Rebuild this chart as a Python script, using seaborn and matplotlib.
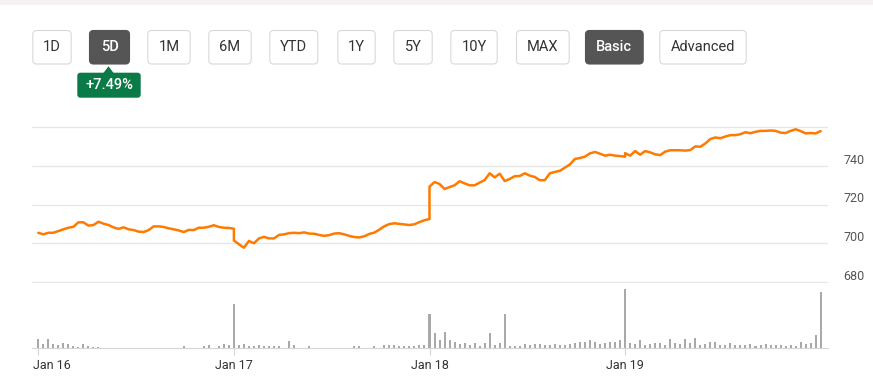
import numpy as np
import pandas as pd
import matplotlib
matplotlib.use("Agg")
import matplotlib.pyplot as plt
import seaborn as sns
from matplotlib.patches import FancyBboxPatch, Rectangle, Polygon
from matplotlib.transforms import ScaledTranslation

# ---------------- data ----------------
days = ["Jan 16", "Jan 17", "Jan 18", "Jan 19"]

price_jan16 = [705.4, 704.6, 705.4, 705.4, 706.3, 707.2, 708.0, 708.5, 710.8, 710.8,
               709.1, 709.4, 711.1, 710.1, 709.4, 708.2, 707.4, 708.2, 707.2, 706.8,
               706.0, 705.8, 706.8, 708.7, 708.7, 708.4, 707.7, 707.2, 706.6, 705.8,
               706.9, 706.8, 708.0, 708.0, 708.5, 709.3, 708.4, 708.0, 707.9, 707.5]
price_jan17 = [701.4, 699.5, 697.7, 701.2, 700.0, 702.5, 703.3, 702.5, 702.5, 704.3,
               704.6, 705.2, 705.4, 705.2, 705.6, 705.0, 704.9, 704.3, 703.8, 704.2,
               705.0, 705.2, 704.6, 703.8, 703.2, 703.0, 703.6, 704.8, 705.5, 707.0,
               708.8, 709.9, 710.3, 710.0, 709.7, 709.4, 709.8, 710.9, 711.9, 712.5]
price_jan18 = [729.2, 731.6, 730.6, 728.0, 729.0, 729.9, 732.0, 730.9, 729.9, 729.9,
               731.3, 732.6, 736.1, 734.0, 735.9, 732.1, 733.2, 734.6, 734.7, 736.1,
               734.9, 734.2, 732.5, 732.6, 736.1, 736.8, 737.4, 739.0, 740.7, 743.5,
               744.0, 744.7, 746.4, 747.1, 746.2, 745.2, 745.7, 745.2, 745.0, 744.7]
price_jan19 = [746.5, 745.2, 747.6, 745.7, 747.6, 746.9, 745.9, 745.5, 747.3, 748.0,
               748.0, 748.0, 747.8, 748.1, 750.0, 749.8, 751.5, 753.8, 754.6, 754.2,
               755.1, 755.8, 755.8, 756.3, 757.3, 756.8, 757.5, 758.0, 758.0, 758.2,
               758.0, 757.1, 756.9, 758.0, 758.8, 757.9, 756.7, 756.9, 756.7, 757.9]

vol_jan16 = [8.7, 3.3, 8.7, 3.3, 2.3, 5.0, 3.7, 2.0, 1.0, 3.7,
             1.3, 1.0, 1.0, 0, 0, 0, 0, 0, 0, 0,
             0, 0, 0, 0, 0, 0, 0, 0, 0, 1.3,
             0, 0, 0, 1.3, 2.3, 0, 1.3, 3.7, 2.3, 0]
vol_jan17 = [43.3, 2.3, 3.7, 1.3, 1.3, 2.3, 1.3, 1.3, 1.3, 1.3,
             0, 7.0, 2.3, 0, 0, 1.3, 0, 0, 0, 0,
             0, 0, 0, 0, 1.3, 1.3, 0, 0, 1.3, 0,
             2.3, 2.3, 2.3, 1.3, 1.3, 1.3, 1.3, 2.3, 2.3, 0]
vol_jan18 = [33.3, 15.0, 7.3, 16.0, 7.3, 6.0, 3.7, 5.0, 2.7, 5.0,
             1.3, 5.0, 15.0, 2.7, 5.0, 33.3, 1.3, 1.3, 1.3, 3.7,
             2.7, 3.7, 3.7, 2.3, 2.3, 3.7, 2.3, 2.3, 3.7, 5.0,
             6.0, 6.0, 7.3, 6.0, 3.7, 5.0, 6.0, 6.0, 7.3, 0]
vol_jan19 = [58.3, 5.0, 3.7, 7.3, 2.7, 3.7, 5.0, 5.0, 2.3, 8.7,
             5.0, 3.7, 8.7, 5.0, 10.0, 2.7, 3.7, 6.0, 6.0, 2.3,
             2.3, 5.0, 2.3, 2.3, 2.3, 3.7, 1.3, 2.3, 3.7, 2.3,
             2.3, 2.3, 1.3, 2.3, 1.3, 6.0, 3.7, 5.0, 12.7, 56.0]

y_ticks = [680, 700, 720, 740, 760]
y_labels = ["680", "700", "720", "740", ""]

range_buttons = ["1D", "5D", "1M", "6M", "YTD", "1Y", "5Y", "10Y", "MAX", "Basic", "Advanced"]
active_buttons = ["5D", "Basic"]
change_label = "+7.49%"

# ---------------- table ----------------
prices = [price_jan16, price_jan17, price_jan18, price_jan19]
vols = [vol_jan16, vol_jan17, vol_jan18, vol_jan19]
SESSION = 390   # minutes 9:30 -> 16:00
SLOT = 10       # minutes per point
rows = []
for d, (p, v) in enumerate(zip(prices, vols)):
    for k in range(len(p)):
        rows.append(dict(day=days[d], t=d * SESSION + k * SLOT, price=p[k], volume=v[k]))
df = pd.DataFrame(rows)

# ---------------- style ----------------
sns.set_style("white")
plt.rcParams["font.family"] = ["Roboto", "DejaVu Sans"]

W, H = 873, 379
fig = plt.figure(figsize=(W / 100, H / 100), dpi=100)
fig.patch.set_facecolor("white")


def frac(x0, y0, x1, y1):
    return [x0 / W, 1 - y1 / H, (x1 - x0) / W, (y1 - y0) / H]


px_per_t = 195.6 / SESSION
x_origin = 38.3
xlim = ((32 - x_origin) / px_per_t, (828 - x_origin) / px_per_t)

# ---------------- UI overlay ----------------
ui = fig.add_axes([0, 0, 1, 1], zorder=0)
ui.set_xlim(0, W)
ui.set_ylim(H, 0)
ui.axis("off")
ui.add_patch(Rectangle((0, 0), W, 4.7, fc="#f5f1f1", ec="none"))

btn_x = [(32.3, 71.7), (89, 130), (147.3, 190.7), (208.3, 251.7), (269.3, 318.3),
         (337.3, 375.7), (393.3, 432.7), (450.3, 497.7), (516, 569.7), (585, 643.7),
         (659.3, 746.7)]
for lab, (a, b) in zip(range_buttons, btn_x):
    act = lab in active_buttons
    ui.add_patch(FancyBboxPatch((a + 0.5, 30.5), b - a - 1, 33.5,
                                boxstyle="round,pad=0,rounding_size=4",
                                fc="#555555" if act else "white",
                                ec="#555555" if act else "#d9d9d9", lw=0.8))
    ui.text((a + b) / 2, 47.2, lab, ha="center", va="center", fontsize=10.5,
            color="white" if act else "#333333",
            fontweight="medium" if act else "normal")

ui.add_patch(FancyBboxPatch((77.3, 72.7), 63.4, 25, boxstyle="round,pad=0,rounding_size=3",
                            fc="#0a7a46", ec="none"))
ui.add_patch(Polygon([(103, 73.5), (108.5, 66.3), (114, 73.5)], closed=True,
                     fc="#0a7a46", ec="none"))
ui.text(109, 85.3, change_label, ha="center", va="center", fontsize=10.5, color="white",
        fontweight="medium")

# ---------------- price pane ----------------
ppu = 155 / 80.0
ax = fig.add_axes(frac(32, 126, 828, 283), zorder=2)
ax.patch.set_alpha(0)
sns.lineplot(data=df, x="t", y="price", estimator=None, sort=False,
             color="#ff7a00", linewidth=1.8, ax=ax)
ax.set_xlim(*xlim)
ax.set_ylim(680 - 1 / ppu, 760 + 1 / ppu)
ax.set(xlabel="", ylabel="")
ax.set_xticks([])
ax.yaxis.tick_right()
ax.set_yticks(y_ticks)
ax.set_yticklabels(y_labels)
ax.tick_params(axis="y", length=0, pad=10.8, labelsize=9, labelcolor="#555555")
for lbl in ax.get_yticklabels():
    lbl.set_transform(lbl.get_transform() + ScaledTranslation(0, 7 / 100, fig.dpi_scale_trans))
ax.grid(axis="y", color="#e6e6e6", linewidth=0.9)
ax.grid(axis="x", visible=False)
for s in ax.spines.values():
    s.set_visible(False)

# ---------------- volume pane ----------------
axv = fig.add_axes(frac(32, 282, 828, 347.5), zorder=1)
axv.patch.set_alpha(0)
axv.bar(df["t"], df["volume"], width=4, color="#a9a9a9", linewidth=0)
axv.set_xlim(*xlim)
axv.set_ylim(0, 65.5)
axv.set_yticks([])
axv.set_xticks([d * SESSION for d in range(len(days))])
axv.set_xticklabels(days)
axv.tick_params(axis="x", length=5, width=0.8, color="#d6d6d6", pad=3.2,
                labelsize=9, labelcolor="#333333", bottom=True)
for s in ["top", "left", "right"]:
    axv.spines[s].set_visible(False)
axv.spines["bottom"].set_color("#d6d6d6")
axv.spines["bottom"].set_linewidth(0.8)
first = axv.get_xticklabels()[0]
first.set_ha("left")
first.set_transform(first.get_transform() + ScaledTranslation(-5.6 / 100, 0, fig.dpi_scale_trans))

fig.savefig("out.png", dpi=100)
